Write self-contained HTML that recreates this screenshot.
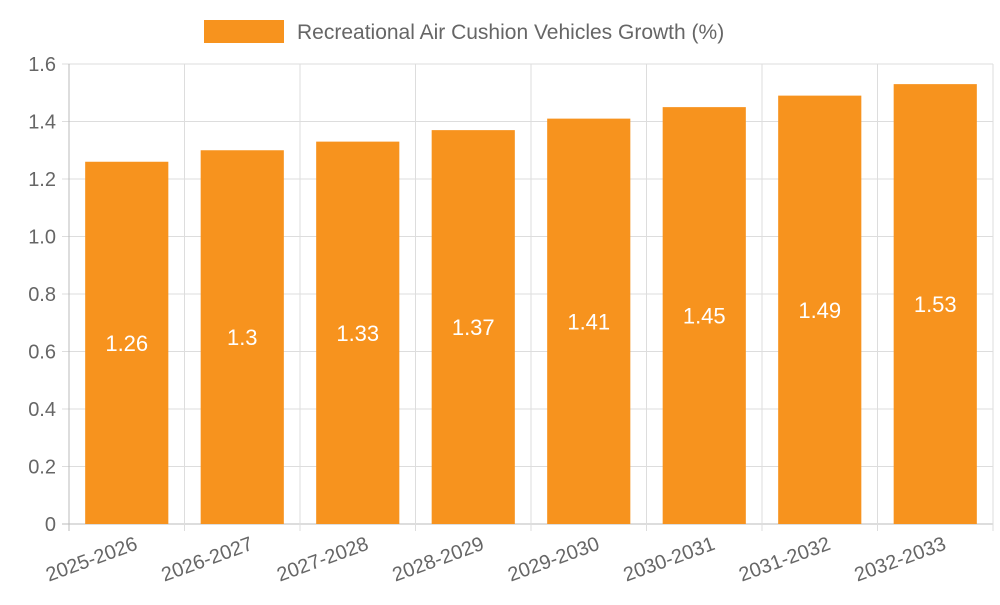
<!DOCTYPE html>
<html><head><meta charset="utf-8"><style>
body{margin:0;background:#fff;font-family:"Liberation Sans",sans-serif}
</style></head><body>
<svg width="1000" height="600" id="c" font-family="Liberation Sans, sans-serif">
<g>
<rect x="204" y="20" width="80" height="23" fill="#f7931e"/>
<text x="297" y="39" font-size="21" fill="#666">Recreational Air Cushion Vehicles Growth (%)</text>
</g>
</svg>
<script>
const categories=["2025-2026","2026-2027","2027-2028","2028-2029","2029-2030","2030-2031","2031-2032","2032-2033"];
const values=[1.26,1.3,1.33,1.37,1.41,1.45,1.49,1.53];
const yTicks=[0,0.2,0.4,0.6,0.8,1.0,1.2,1.4,1.6];
const yTickLabels=["0","0.2","0.4","0.6","0.8","1.0","1.2","1.4","1.6"];
const svg=document.getElementById('c');const NS="http://www.w3.org/2000/svg";
const L=69,R=993,T=64,B=524,yMax=1.6;
const y=v=>B-(v/yMax)*(B-T);
const band=(R-L)/categories.length;
const x=i=>L+i*band;
function mk(t,a,p){const e=document.createElementNS(NS,t);for(const k in a)e.setAttribute(k,a[k]);(p||svg).appendChild(e);return e;}
const grid=mk('g',{});


yTicks.forEach((v,i)=>{
 const l=mk('line',{x1:L-7,x2:R,y1:y(v),y2:y(v),stroke:i==0?'#bbb':'#ddd','stroke-width':1},grid);
 
 
 const t=mk('text',{x:L-13,y:y(v)+7,'text-anchor':'end','font-size':20,fill:'#666'},grid);
 t.textContent=yTickLabels[i];
 
 
});
for(let i=0;i<=categories.length;i++){
 const l=mk('line',{x1:x(i),x2:x(i),y1:T,y2:B+7,stroke:i==0?'#bbb':'#ddd'},grid);
 
 
}
const bw=band*0.72;
categories.forEach((c,i)=>{
 const cx=x(i)+band/2;
 const r=mk('rect',{x:cx-bw/2,y:y(values[i]),width:bw,height:B-y(values[i]),fill:'#f7931e'});
 
 
 const t=mk('text',{x:cx,y:(y(values[i])+B)/2+8,'text-anchor':'middle','font-size':22,fill:'#fff'});
 t.textContent=String(values[i]);
 
 
 const xl=mk('text',{x:0,y:0,'text-anchor':'end','font-size':20,fill:'#666',transform:`translate(${cx+12},${B+25}) rotate(-20)`});
 xl.textContent=c;
 
 
});
</script>
</body></html>
